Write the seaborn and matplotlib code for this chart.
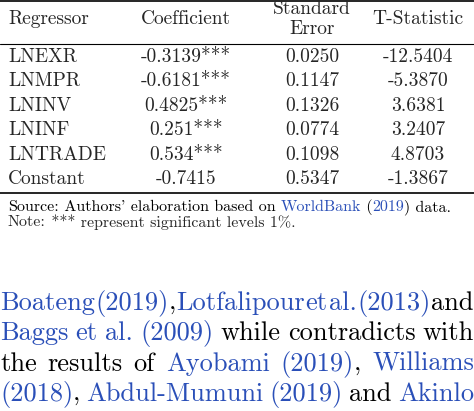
import matplotlib
matplotlib.use("Agg")
import matplotlib.pyplot as plt
import seaborn as sns

sns.set_theme(style="white")
plt.rcParams['font.family'] = ['cmr10', 'DejaVu Serif']
plt.rcParams['axes.unicode_minus'] = False

regressors = ["LNEXR", "LNMPR", "LNINV", "LNINF", "LNTRADE", "Constant"]
coefficients = ["-0.3139***", "-0.6181***", "0.4825***", "0.251***", "0.534***", "-0.7415"]
std_errors = ["0.0250", "0.1147", "0.1326", "0.0774", "0.1098", "0.5347"]
t_stats = ["-12.5404", "-5.3870", "3.6381", "3.2407", "4.8703", "-1.3867"]

BLUE = "#2a4fb8"
K = "black"
paragraph = [
    [[("Boateng", BLUE)], [("(2019)", BLUE), (",", K), ("Lotfalipour", BLUE)], [("et", BLUE)],
     [("al.", BLUE)], [("(2013)", BLUE)], [("and", K)]],
    [[("Baggs", BLUE)], [("et", BLUE)], [("al.", BLUE)], [("(2009)", BLUE)], [("while", K)],
     [("contradicts", K)], [("with", K)]],
    [[("the", K)], [("results", K)], [("of", K)], [("Ayobami", BLUE)], [("(2019)", BLUE), (",", K)],
     [("Williams", BLUE)]],
    [[("(2018)", BLUE), (",", K)], [("Abdul-Mumuni", BLUE)], [("(2019)", BLUE)], [("and", K)],
     [("Akinlo", BLUE)]],
]

fig = plt.figure(figsize=(4.74, 4.11), dpi=100)
ax = fig.add_axes([0, 0, 1, 1])
ax.set_xlim(0, 474)
ax.set_ylim(411, 0)
ax.axis("off")

# rules
ax.plot([0, 474], [1.5, 1.5], color=K, lw=1.2)
ax.plot([0, 474], [44, 44], color=K, lw=0.8)
ax.plot([0, 474], [193, 193], color=K, lw=1.2)

fs = 14
ax.text(8, 19, "Regressor", fontsize=fs, va="center")
ax.text(186, 19, "Coefficient", fontsize=fs, va="center", ha="center")
ax.text(312, 19, "Standard\nError", fontsize=fs, va="center", ha="center", linespacing=1.1)
ax.text(418, 19, "T-Statistic", fontsize=fs, va="center", ha="center")

for i, r in enumerate(regressors):
    y = 57 + i * 24.4
    ax.text(8, y, r, fontsize=fs, va="center")
    ax.text(186, y, coefficients[i], fontsize=fs, va="center", ha="center")
    ax.text(312, y, std_errors[i], fontsize=fs, va="center", ha="center")
    ax.text(418, y, t_stats[i], fontsize=fs, va="center", ha="center")

nfs = 11.5
x = 8
for txt, col, st in [("Source:", K, "italic"), (" Authors' elaboration based on ", K, "normal"),
                     ("WorldBank", BLUE, "normal"), (" (", K, "normal"), ("2019", BLUE, "normal"),
                     (") data.", K, "normal")]:
    t = ax.text(x, 207, txt, fontsize=nfs, va="center", color=col, style=st)
    fig.canvas.draw()
    x += t.get_window_extent().width
x = 8
for txt, st in [("Note:", "italic"), (" *** represent significant levels 1%.", "normal")]:
    t = ax.text(x, 222, txt, fontsize=nfs, va="center", style=st)
    fig.canvas.draw()
    x += t.get_window_extent().width

# justified paragraph
pfs = 19
renderer = fig.canvas.get_renderer()
for li, words in enumerate(paragraph):
    y = 303 + li * 30.5
    texts = []
    widths = []
    for w in words:
        parts = []
        wd = 0
        for txt, col in w:
            t = ax.text(0, y, txt, fontsize=pfs, va="center", color=col)
            wd += t.get_window_extent(renderer).width
            parts.append(t)
        texts.append(parts)
        widths.append(wd)
    gap = (474 - sum(widths)) / (len(words) - 1)
    x = 0
    for parts, wd in zip(texts, widths):
        px = x
        for t in parts:
            t.set_x(px)
            px += t.get_window_extent(renderer).width
        x += wd + gap

fig.savefig("out.png", dpi=100)
